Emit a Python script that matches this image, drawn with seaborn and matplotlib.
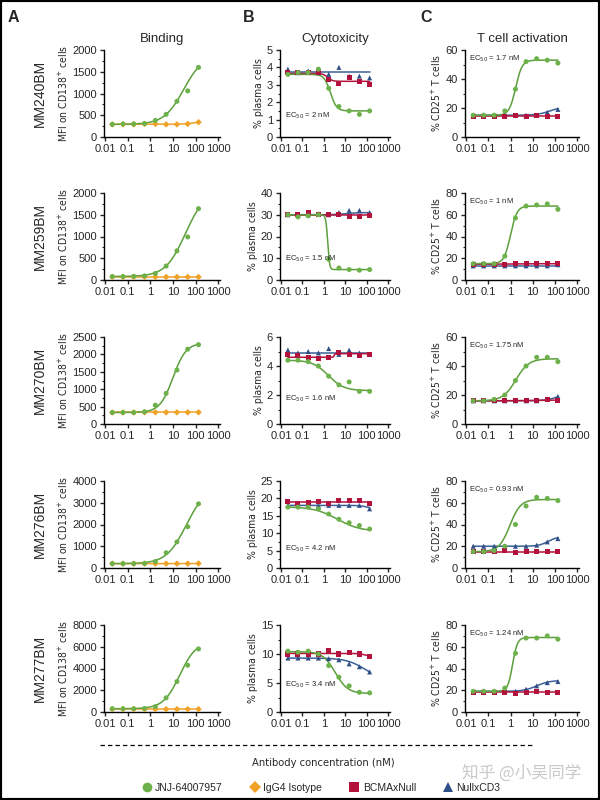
import numpy as np
import pandas as pd
import matplotlib
matplotlib.use("Agg")
import matplotlib.pyplot as plt
import seaborn as sns
from matplotlib import font_manager
from matplotlib.lines import Line2D
from matplotlib.patches import Rectangle
from matplotlib.ticker import FixedLocator, FixedFormatter, AutoMinorLocator, LogLocator, NullFormatter

# antibody concentrations (nM), 3-fold dilution series
conc = [0.021, 0.062, 0.185, 0.556, 1.67, 5, 15, 45, 135]

donors = ['MM240BM', 'MM259BM', 'MM270BM', 'MM276BM', 'MM277BM']
titles = ['Binding', 'Cytotoxicity', 'T cell activation']
series_names = ['JNJ-64007957', 'IgG4 Isotype', 'BCMAxNull', 'NullxCD3']

# Binding: MFI on CD138+ cells
bind_jnj = [
    [290, 300, 300, 310, 380, 520, 820, 1060, 1600],
    [80, 80, 85, 95, 150, 320, 670, 990, 1640],
    [330, 330, 330, 350, 540, 880, 1550, 2150, 2280],
    [200, 200, 200, 210, 300, 700, 1200, 1900, 2950],
    [300, 300, 300, 320, 500, 1300, 2800, 4300, 5800],
]
bind_igg4 = [
    [290, 290, 290, 300, 300, 290, 290, 300, 340],
    [70, 70, 70, 70, 70, 70, 70, 70, 70],
    [330, 330, 330, 335, 335, 335, 335, 335, 335],
    [200, 200, 200, 200, 200, 200, 200, 200, 210],
    [260, 260, 260, 260, 260, 260, 260, 260, 260],
]
# Cytotoxicity: % plasma cells
cyto_jnj = [
    [3.6, 3.7, 3.7, 3.9, 2.8, 1.75, 1.5, 1.3, 1.5],
    [30, 29, 29.5, 30, 9.5, 5.5, 4.8, 4.5, 4.8],
    [4.4, 4.4, 4.3, 4.0, 3.3, 2.7, 2.9, 2.25, 2.25],
    [17.5, 17.5, 17.5, 17, 15.5, 14, 13, 12.2, 11.2],
    [10.5, 10.3, 10.5, 10, 8, 6, 4.5, 3.4, 3.3],
]
cyto_bcma = [
    [3.7, 3.7, 3.7, 3.7, 3.3, 3.1, 3.4, 3.2, 3.0],
    [30, 30, 31, 30, 30, 30, 29, 29, 29.5],
    [4.8, 4.7, 4.6, 4.5, 4.6, 4.9, 4.8, 4.7, 4.8],
    [19, 18.5, 18.8, 19.2, 18.5, 19.5, 19.3, 19.3, 18.5],
    [10, 10, 10, 10, 10.6, 10, 10.2, 10, 9.6],
]
cyto_null = [
    [3.9, 3.7, 3.8, 3.7, 3.6, 4.0, 3.5, 3.5, 3.4],
    [30, 30, 30, 30.5, 30, 31, 32, 32, 31],
    [5.1, 4.9, 5.0, 4.9, 5.2, 4.8, 5.1, 4.9, 4.8],
    [18, 18, 18, 18, 18, 18, 18, 18, 17],
    [9.3, 9.3, 9.3, 9.3, 9.2, 9.0, 8.3, 7.8, 6.9],
]
# T cell activation: % CD25+ T cells
tcell_jnj = [
    [15, 15, 15, 18, 33, 52, 54, 53, 51],
    [15, 15, 15, 22, 57, 68, 69, 70, 65],
    [16, 16, 17, 20, 30, 40, 46, 46, 43],
    [15, 15, 16, 20, 40, 57, 65, 64, 62],
    [19, 19, 19, 22, 54, 68, 68, 70, 67],
]
tcell_bcma = [
    [14, 14, 14, 14, 15, 14, 15, 14, 14],
    [14, 14, 14, 14, 15, 15, 15, 15, 15],
    [16, 16, 16, 16, 16, 16, 16, 17, 16],
    [15, 15, 15, 16, 14, 15, 15, 15, 15],
    [18, 18, 18, 18, 17, 18, 19, 18, 18],
]
tcell_null = [
    [15, 15, 15, 15, 15, 15, 15, 17, 19],
    [13, 13, 13, 13, 13, 13, 13, 13, 14],
    [16, 16, 16, 16, 16, 16, 16, 17, 19],
    [20, 20, 20, 20, 20, 20, 21, 24, 27],
    [19, 18, 19, 19, 19, 21, 24, 27, 28],
]

# 4PL fits: (low-conc value, high-conc value, EC50, hill)
bind_jnj_fit = [(290, 1900, 30, 1.0), (80, 2040, 35, 1.0), (330, 2330, 10, 1.5),
                (200, 3720, 38, 1.0), (300, 6500, 20, 1.2)]
bind_igg4_fit = [(292, 400, 150, 1.5), (72, 72, 1, 1), (335, 335, 1, 1),
                 (200, 205, 1, 1), (260, 260, 1, 1)]
cyto_jnj_fit = [(3.6, 1.5, 2.0, 3), (30, 4.8, 1.5, 10), (4.4, 2.3, 1.6, 1.2),
                (17.6, 10.5, 4.2, 0.8), (10.4, 3.2, 3.4, 1.5)]
cyto_bcma_fit = [(3.65, 3.2, 1.5, 4), (29.8, 29.8, 1, 1), (4.6, 4.85, 3, 20),
                 (18.9, 18.9, 1, 1), (10.1, 9.6, 80, 3)]
cyto_null_fit = [(3.75, 3.75, 1, 1), (30, 31, 10, 1.5), (4.9, 4.9, 1, 1),
                 (18, 16.5, 150, 2), (9.3, 5.5, 80, 1)]
tcell_jnj_fit = [(15, 53, 1.7, 3), (15, 68, 1.0, 3), (16, 45, 1.75, 1.5),
                 (15, 63, 0.93, 1.8), (19, 68.5, 1.24, 4)]
tcell_bcma_fit = [(14.5, 14.5, 1, 1), (14.5, 15, 1, 1), (16, 16.5, 10, 1),
                  (15, 15, 1, 1), (18, 18, 1, 1)]
tcell_null_fit = [(15, 21, 60, 1.5), (12.8, 12.8, 1, 1), (16, 22, 150, 1.5),
                  (20, 29, 50, 2), (19, 29, 15, 1.5)]

cyto_ec50 = ['2 nM', '1.5 nM', '1.6 nM', '4.2 nM', '3.4 nM']
tcell_ec50 = ['1.7 nM', '1 nM', '1.75 nM', '0.93 nM', '1.24 nM']

bind_ymax = [2000, 2000, 2500, 4000, 8000]
bind_step = [500, 500, 500, 1000, 2000]
cyto_ymax = [5, 40, 6, 25, 15]
cyto_step = [1, 10, 2, 5, 5]
tcell_ymax = [60, 80, 60, 80, 80]
tcell_step = [20, 20, 20, 20, 20]

xtick_vals = [0.01, 0.1, 1, 10, 100, 1000]
xtick_labels = ['0.01', '0.1', '1', '10', '100', '1000']

GREEN = '#6cb14a'
GREEN_LINE = '#5c9f3c'
ORANGE = '#f0a227'
RED = '#b3123c'
BLUE = '#2f4f86'
BLUE_LINE = '#3d6098'

sns.set_style("ticks")
plt.rcParams['font.family'] = ['Liberation Sans', 'DejaVu Sans']


def narrow_font(size):
    # look for a condensed sans face; fall back to a smaller regular one
    paths = [f.fname for f in font_manager.fontManager.ttflist]
    for key in ['LiberationSansNarrow-Regular', 'DejaVuSansCondensed.ttf']:
        for p in paths:
            if key in p:
                return font_manager.FontProperties(fname=p, size=size)
    return font_manager.FontProperties(family='Liberation Sans', size=size * 0.85)


def four_pl(x, low, high, ec50, hill):
    return low + (high - low) / (1 + (ec50 / x) ** hill)


def draw_series(ax, yvals, fit, color, line_color, marker, size):
    df = pd.DataFrame({'conc': conc, 'val': yvals})
    xs = np.logspace(np.log10(conc[0]), np.log10(conc[-1]), 300)
    curve = pd.DataFrame({'conc': xs, 'val': four_pl(xs, *fit)})
    sns.lineplot(data=curve, x='conc', y='val', ax=ax, color=line_color,
                 lw=1.1, estimator=None, zorder=2)
    sns.scatterplot(data=df, x='conc', y='val', ax=ax, color=color, marker=marker,
                    s=size, edgecolor='none', zorder=3, legend=False)


def style_axes(ax, ymax, step, ylabel):
    ax.set_xscale('log')
    ax.set_xlim(0.009, 1200)
    ax.set_ylim(0, ymax)
    ax.xaxis.set_major_locator(FixedLocator(xtick_vals))
    ax.xaxis.set_major_formatter(FixedFormatter(xtick_labels))
    ax.xaxis.set_minor_locator(LogLocator(base=10, subs=np.arange(2, 10)))
    ax.xaxis.set_minor_formatter(NullFormatter())
    ax.set_yticks(np.arange(0, ymax + step / 2, step))
    ax.yaxis.set_minor_locator(AutoMinorLocator(2))
    ax.tick_params(axis='both', which='major', labelsize=8, length=3, width=1.0, pad=2)
    ax.tick_params(axis='both', which='minor', length=1.6, width=0.8)
    for s in ['left', 'bottom']:
        ax.spines[s].set_linewidth(1.0)
        ax.spines[s].set_color('black')
    sns.despine(ax=ax)
    ax.set_xlabel('')
    ax.set_ylabel(ylabel, fontproperties=narrow_font(7.5), labelpad=2)


fig = plt.figure(figsize=(6, 8), dpi=100)

col_left = [104, 280, 465]
col_width = [116, 110, 114]
row_top = [50, 193, 337, 481, 625]
ax_h = 87
cyto_text_y = [0.24, 0.24, 0.29, 0.22, 0.31]

for r in range(5):
    axes = []
    for c in range(3):
        ax = fig.add_axes([col_left[c] / 600, 1 - (row_top[r] + ax_h) / 800,
                           col_width[c] / 600, ax_h / 800])
        axes.append(ax)
    a, b, t = axes

    draw_series(a, bind_igg4[r], bind_igg4_fit[r], ORANGE, ORANGE, 'D', 11)
    draw_series(a, bind_jnj[r], bind_jnj_fit[r], GREEN, GREEN_LINE, 'o', 13)
    style_axes(a, bind_ymax[r], bind_step[r], 'MFI on CD138$^{+}$ cells')

    draw_series(b, cyto_null[r], cyto_null_fit[r], BLUE, BLUE_LINE, '^', 13)
    draw_series(b, cyto_bcma[r], cyto_bcma_fit[r], RED, RED, 's', 13)
    draw_series(b, cyto_jnj[r], cyto_jnj_fit[r], GREEN, GREEN_LINE, 'o', 13)
    style_axes(b, cyto_ymax[r], cyto_step[r], '% plasma cells')
    b.text(0.015, cyto_ymax[r] * cyto_text_y[r], 'EC$_{50}$ = ' + cyto_ec50[r],
           fontsize=5.5, va='center')

    draw_series(t, tcell_null[r], tcell_null_fit[r], BLUE, BLUE_LINE, '^', 13)
    draw_series(t, tcell_bcma[r], tcell_bcma_fit[r], RED, RED, 's', 13)
    draw_series(t, tcell_jnj[r], tcell_jnj_fit[r], GREEN, GREEN_LINE, 'o', 13)
    style_axes(t, tcell_ymax[r], tcell_step[r], '% CD25$^{+}$ T cells')
    t.text(0.014, tcell_ymax[r] * 0.9, 'EC$_{50}$ = ' + tcell_ec50[r],
           fontsize=5.5, va='center')

    if r == 0:
        for ax, title in zip(axes, titles):
            ax.set_title(title, fontsize=9.5, pad=6)

    fig.text(40 / 600, 1 - (row_top[r] + ax_h / 2) / 800, donors[r],
             rotation=90, fontsize=10, ha='center', va='center')

# panel letters
for letter, px in zip(['A', 'B', 'C'], [8, 243, 420]):
    fig.text(px / 600, 1 - 17 / 800, letter, fontsize=11.5, fontweight='bold',
             ha='left', va='center')

# shared x axis label with dashed bracket
fig.add_artist(Line2D([100 / 600, 535 / 600], [1 - 745 / 800] * 2,
                      transform=fig.transFigure, color='black', lw=0.9,
                      ls=(0, (3.5, 2.5))))
fig.text(323 / 600, 1 - 763 / 800, 'Antibody concentration (nM)',
         fontproperties=narrow_font(8), ha='center', va='center')

handles = [
    Line2D([], [], marker='o', ls='none', color=GREEN, markersize=7, markeredgewidth=0),
    Line2D([], [], marker='D', ls='none', color=ORANGE, markersize=6, markeredgewidth=0),
    Line2D([], [], marker='s', ls='none', color=RED, markersize=6.5, markeredgewidth=0),
    Line2D([], [], marker='^', ls='none', color=BLUE, markersize=6.5, markeredgewidth=0),
]
fig.legend(handles, series_names, loc='center', bbox_to_anchor=(0.535, 1 - 788 / 800),
           ncol=4, frameon=False, fontsize=7.5, columnspacing=2.6, handletextpad=0.3,
           handlelength=1.0)

fig.text(522 / 600, 1 - 773 / 800, '知乎 @小吴同学', fontsize=12, color='#c9c9c9',
         family=['Noto Sans CJK SC', 'DejaVu Sans'], ha='center', va='center')

fig.add_artist(Rectangle((0, 0), 1, 1, transform=fig.transFigure, fill=False,
                         lw=3, ec='black'))

fig.savefig('out.png', dpi=100)
